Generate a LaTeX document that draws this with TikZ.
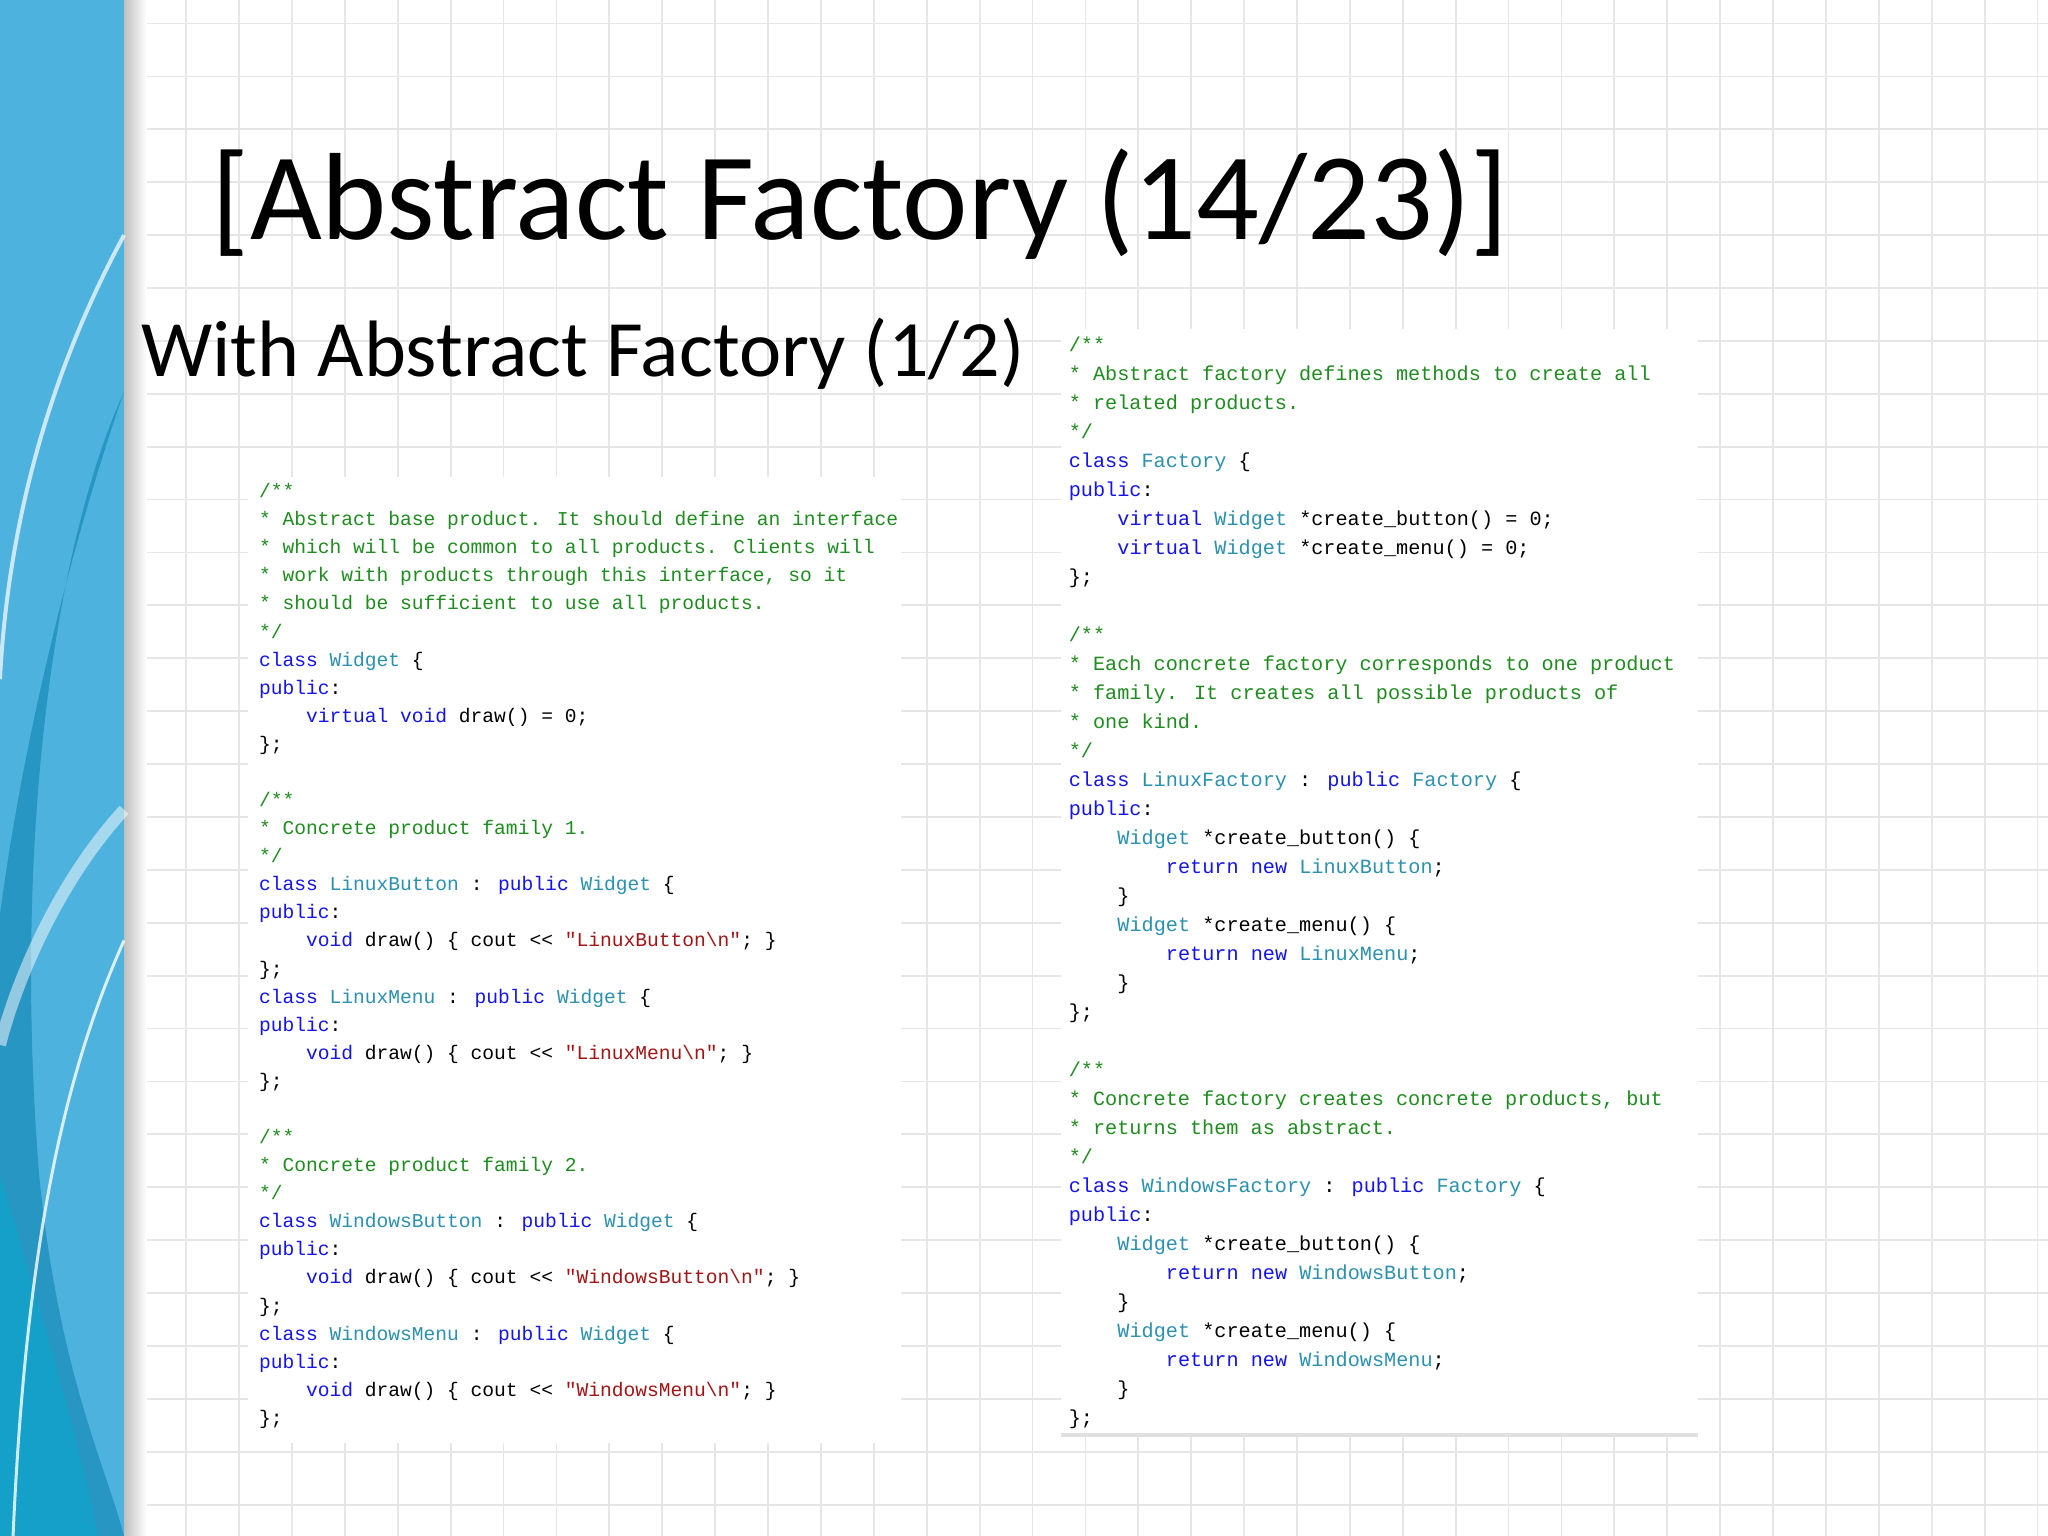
\documentclass[tikz,border=0pt]{standalone}
\usepackage{fontspec}
\setmainfont{Carlito}
\newfontfamily\cf{Liberation Mono}
\definecolor{cgreen}{RGB}{30,140,30}
\definecolor{ckw}{RGB}{20,20,235}
\definecolor{cty}{RGB}{43,145,175}
\definecolor{cst}{RGB}{163,21,21}
\definecolor{gridc}{RGB}{230,230,230}
\definecolor{band}{RGB}{78,178,222}
\newcommand\cm[1]{\textcolor{cgreen}{#1}}
\newcommand\kw[1]{\textcolor{ckw}{#1}}
\newcommand\ty[1]{\textcolor{cty}{#1}}
\newcommand\st[1]{\textcolor{cst}{#1}}
\newcommand\LL[4]{\node[lcode] (#1) at ({198+#3*9.0},{381+#2*21.5}) {#4};}
\newcommand\RR[4]{\node[rcode] (#1) at ({818+#3*9.3},{269+#2*22.2}) {#4};}
\tikzset{
 lcode/.style={anchor=base west,inner sep=0pt,font=\cf\fontsize{9.8}{12}\selectfont},
 rcode/.style={anchor=base west,inner sep=0pt,font=\cf\fontsize{10.1}{12}\selectfont},
}
\begin{document}
\begin{tikzpicture}[x=0.653pt,y=-0.653pt]
\useasboundingbox (0,0) rectangle (1568,1176);
\fill[white] (0,0) rectangle (1568,1176);
\foreach \i in {0,...,36} {\draw[gridc,line width=0.9pt] ({102+\i*40.5},0) -- ({102+\i*40.5},1176);}
\foreach \j in {0,...,29} {\draw[gridc,line width=0.9pt] (95,{18+\j*40.5}) -- (1568,{18+\j*40.5});}
% left band
\shade[left color=black!25,right color=white] (95,0) rectangle (112,1176);
\fill[band] (0,0) rectangle (95,1176);
\fill[color={rgb,255:red,40;green,150;blue,195}] (95,300) .. controls (40,420) and (10,650) .. (30,900) .. controls (45,1050) and (80,1120) .. (95,1176) -- (0,1176) -- (0,700) .. controls (20,550) and (60,400) .. (95,300);
\fill[color={rgb,255:red,20;green,160;blue,200}] (0,1176) -- (0,900) .. controls (30,1000) and (60,1100) .. (75,1176) -- cycle;
\draw[white,opacity=0.7,line width=2pt] (95,180) .. controls (30,300) and (5,420) .. (0,520);
\draw[white,opacity=0.8,line width=1.5pt] (95,720) .. controls (50,820) and (20,950) .. (10,1176);
\draw[white,opacity=0.5,line width=6pt] (95,620) .. controls (40,680) and (10,760) .. (0,800);
% code backgrounds
\fill[white] (190,365) rectangle (690,1105);
\fill[white] (812,252) rectangle (1300,1098);
\draw[black!12,line width=2pt] (812,1099) -- (1300,1099);
% titles
\node[anchor=base west,inner sep=0pt,font=\fontsize{62}{66}\selectfont] (title) at (162,183) {[Abstract Factory (14/23)]};
\node[anchor=base west,inner sep=0pt,font=\fontsize{40}{44}\selectfont] (sub) at (108,288) {With Abstract Factory (1/2)};
% left code
\LL{L0}{0}{0}{\cm{/**}}
\LL{L1}{1}{0}{\cm{* Abstract base product. It should define an interface}}
\LL{L2}{2}{0}{\cm{* which will be common to all products. Clients will}}
\LL{L3}{3}{0}{\cm{* work with products through this interface, so it}}
\LL{L4}{4}{0}{\cm{* should be sufficient to use all products.}}
\LL{L5}{5}{0}{\cm{*/}}
\LL{L6}{6}{0}{\kw{class} \ty{Widget} \{}
\LL{L7}{7}{0}{\kw{public}:}
\LL{L8}{8}{4}{\kw{virtual} \kw{void} draw() = 0;}
\LL{L9}{9}{0}{\};}
\LL{L11}{11}{0}{\cm{/**}}
\LL{L12}{12}{0}{\cm{* Concrete product family 1.}}
\LL{L13}{13}{0}{\cm{*/}}
\LL{L14}{14}{0}{\kw{class} \ty{LinuxButton} : \kw{public} \ty{Widget} \{}
\LL{L15}{15}{0}{\kw{public}:}
\LL{L16}{16}{4}{\kw{void} draw() \{ cout << \st{"LinuxButton\textbackslash n"}; \}}
\LL{L17}{17}{0}{\};}
\LL{L18}{18}{0}{\kw{class} \ty{LinuxMenu} : \kw{public} \ty{Widget} \{}
\LL{L19}{19}{0}{\kw{public}:}
\LL{L20}{20}{4}{\kw{void} draw() \{ cout << \st{"LinuxMenu\textbackslash n"}; \}}
\LL{L21}{21}{0}{\};}
\LL{L23}{23}{0}{\cm{/**}}
\LL{L24}{24}{0}{\cm{* Concrete product family 2.}}
\LL{L25}{25}{0}{\cm{*/}}
\LL{L26}{26}{0}{\kw{class} \ty{WindowsButton} : \kw{public} \ty{Widget} \{}
\LL{L27}{27}{0}{\kw{public}:}
\LL{L28}{28}{4}{\kw{void} draw() \{ cout << \st{"WindowsButton\textbackslash n"}; \}}
\LL{L29}{29}{0}{\};}
\LL{L30}{30}{0}{\kw{class} \ty{WindowsMenu} : \kw{public} \ty{Widget} \{}
\LL{L31}{31}{0}{\kw{public}:}
\LL{L32}{32}{4}{\kw{void} draw() \{ cout << \st{"WindowsMenu\textbackslash n"}; \}}
\LL{L33}{33}{0}{\};}
% right code
\RR{R0}{0}{0}{\cm{/**}}
\RR{R1}{1}{0}{\cm{* Abstract factory defines methods to create all}}
\RR{R2}{2}{0}{\cm{* related products.}}
\RR{R3}{3}{0}{\cm{*/}}
\RR{R4}{4}{0}{\kw{class} \ty{Factory} \{}
\RR{R5}{5}{0}{\kw{public}:}
\RR{R6}{6}{4}{\kw{virtual} \ty{Widget} *create\_button() = 0;}
\RR{R7}{7}{4}{\kw{virtual} \ty{Widget} *create\_menu() = 0;}
\RR{R8}{8}{0}{\};}
\RR{R10}{10}{0}{\cm{/**}}
\RR{R11}{11}{0}{\cm{* Each concrete factory corresponds to one product}}
\RR{R12}{12}{0}{\cm{* family. It creates all possible products of}}
\RR{R13}{13}{0}{\cm{* one kind.}}
\RR{R14}{14}{0}{\cm{*/}}
\RR{R15}{15}{0}{\kw{class} \ty{LinuxFactory} : \kw{public} \ty{Factory} \{}
\RR{R16}{16}{0}{\kw{public}:}
\RR{R17}{17}{4}{\ty{Widget} *create\_button() \{}
\RR{R18}{18}{8}{\kw{return} \kw{new} \ty{LinuxButton};}
\RR{R19}{19}{4}{\}}
\RR{R20}{20}{4}{\ty{Widget} *create\_menu() \{}
\RR{R21}{21}{8}{\kw{return} \kw{new} \ty{LinuxMenu};}
\RR{R22}{22}{4}{\}}
\RR{R23}{23}{0}{\};}
\RR{R25}{25}{0}{\cm{/**}}
\RR{R26}{26}{0}{\cm{* Concrete factory creates concrete products, but}}
\RR{R27}{27}{0}{\cm{* returns them as abstract.}}
\RR{R28}{28}{0}{\cm{*/}}
\RR{R29}{29}{0}{\kw{class} \ty{WindowsFactory} : \kw{public} \ty{Factory} \{}
\RR{R30}{30}{0}{\kw{public}:}
\RR{R31}{31}{4}{\ty{Widget} *create\_button() \{}
\RR{R32}{32}{8}{\kw{return} \kw{new} \ty{WindowsButton};}
\RR{R33}{33}{4}{\}}
\RR{R34}{34}{4}{\ty{Widget} *create\_menu() \{}
\RR{R35}{35}{8}{\kw{return} \kw{new} \ty{WindowsMenu};}
\RR{R36}{36}{4}{\}}
\RR{R37}{37}{0}{\};}
\end{tikzpicture}
\end{document}
